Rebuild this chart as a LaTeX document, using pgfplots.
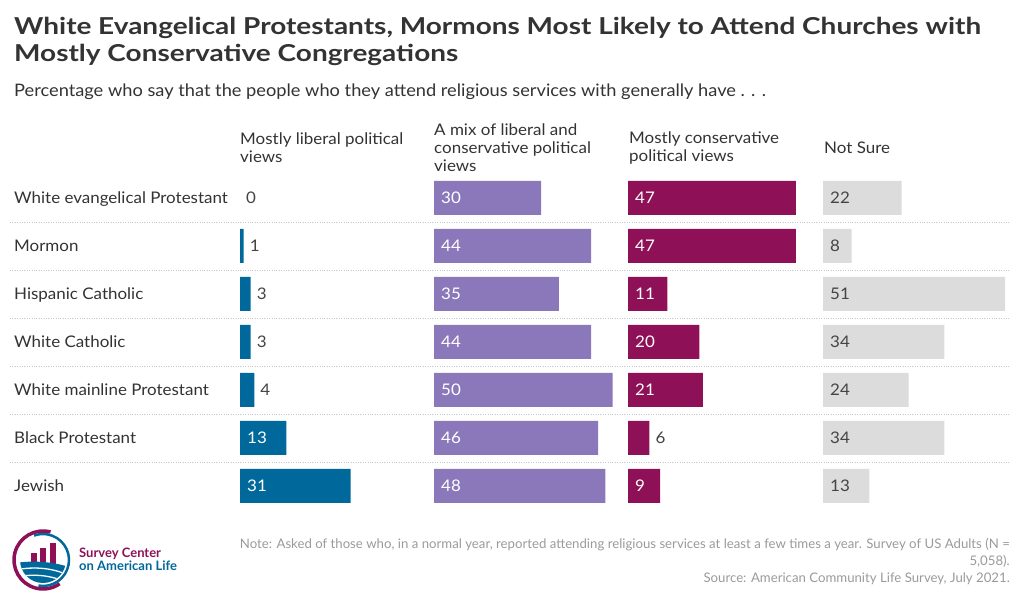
\documentclass[border=0pt]{standalone}
\usepackage{pgfplots}
\pgfplotsset{compat=1.18}
\usepackage{pgfplotstable}
\usepackage{fontspec}
\setmainfont{Lato}[FakeStretch=1.06]
\newfontfamily\titlefont{Lato}[FakeStretch=1.2]
\newfontfamily\notefont{Lato}

\definecolor{libblue}{HTML}{00689A}
\definecolor{mixpurple}{HTML}{8B78BA}
\definecolor{conmag}{HTML}{8E1157}
\definecolor{unsgrey}{HTML}{DCDCDC}
\definecolor{textdark}{HTML}{333333}
\definecolor{labeldark}{HTML}{444444}
\definecolor{notegrey}{HTML}{9A9A9A}
\definecolor{rulegrey}{HTML}{C8C8C8}

% Share of each group (percent) by the political makeup of their congregation
\pgfplotstableread{
row lib mix con uns
0   0   30  47  22
1   1   44  47  8
2   3   35  11  51
3   3   44  20  34
4   4   50  21  24
5   13  46  6   34
6   31  48  9   13
}\survey

\tikzset{
  valfont/.style={font=\fontsize{16bp}{19bp}\selectfont, inner sep=0pt,
    text height=11.5bp, text depth=0pt},
}
\pgfplotsset{
  panel/.style={
    scale only axis, width=185.64bp, height=336bp,
    xmin=0, xmax=52, ymin=-0.5, ymax=6.5, y dir=reverse,
    clip=false, anchor=south west,
    /pgf/number format/assume math mode=true,
  },
  panelbar/.style={xbar, bar width=34bp, fill=#1, draw=none,
    x filter/.expression={x==0 ? nan : x}},
  inlabel/.style={nodes near coords, point meta=explicit,
    nodes near coords style={valfont, anchor=west, xshift=7bp, text=#1}},
  outlabel/.style={nodes near coords, point meta=explicit,
    nodes near coords style={valfont, anchor=west, xshift=6bp, text=labeldark}},
}

\begin{document}
\begin{tikzpicture}[x=1bp, y=1bp]
\path (0,0) rectangle (1024,607);

% title and subtitle
\node[anchor=base west, inner sep=0pt, text=textdark,
  font=\titlefont\fontsize{23.3bp}{27bp}\selectfont\bfseries] at (14,572)
  {White Evangelical Protestants, Mormons Most Likely to Attend Churches with};
\node[anchor=base west, inner sep=0pt, text=textdark,
  font=\titlefont\fontsize{23.3bp}{27bp}\selectfont\bfseries] at (14,545)
  {Mostly Conservative Congregations};
\node[anchor=base west, inner sep=0pt, text=textdark,
  font=\fontsize{17.2bp}{20bp}\selectfont] at (14,510)
  {Percentage who say that the people who they attend religious services with generally have . . .};

% column headers
\foreach \hx/\htxt in {240/{Mostly liberal political\\views},
                      434/{A mix of liberal and\\conservative political\\views},
                      629/{Mostly conservative\\political views},
                      824/{Not Sure}}{
  \node[anchor=west, align=left, inner sep=0pt, text=textdark,
    font=\fontsize{16bp}{18bp}\selectfont] at (\hx,459) {\htxt};
}

% row separators
\foreach \ry in {222,270,318,366,414,462}{
  \draw[rulegrey, line width=0.7bp, dash pattern=on 0.8bp off 1.6bp]
    (10,607-\ry) -- (1010,607-\ry);
}

% mostly liberal
\begin{axis}[panel, at={(240bp,97bp)},
  axis line style={draw=none}, tick style={draw=none}, xtick=\empty,
  ytick={0,...,6}, major tick length=0pt,
  yticklabels={White evangelical Protestant, Mormon, Hispanic Catholic,
    White Catholic, White mainline Protestant, Black Protestant, Jewish},
  yticklabel style={anchor=west, inner sep=0pt, xshift=-226bp,
    font=\fontsize{16bp}{19bp}\selectfont, text=textdark,
    text height=11.5bp, text depth=0pt}]
  \addplot[panelbar=libblue] table[x=lib, y=row] {\survey};
  \addplot[draw=none, inlabel=white]
    table[x expr={\thisrow{lib}<10 ? nan : 0}, y=row, meta=lib] {\survey};
  \addplot[draw=none, outlabel]
    table[x expr={\thisrow{lib}<10 ? \thisrow{lib} : nan}, y=row, meta=lib] {\survey};
\end{axis}

% a mix of liberal and conservative
\begin{axis}[panel, at={(434bp,97bp)}, hide axis]
  \addplot[panelbar=mixpurple] table[x=mix, y=row] {\survey};
  \addplot[draw=none, inlabel=white]
    table[x expr=0, y=row, meta=mix] {\survey};
\end{axis}

% mostly conservative
\begin{axis}[panel, at={(628bp,97bp)}, hide axis]
  \addplot[panelbar=conmag] table[x=con, y=row] {\survey};
  \addplot[draw=none, inlabel=white]
    table[x expr={\thisrow{con}<8 ? nan : 0}, y=row, meta=con] {\survey};
  \addplot[draw=none, outlabel]
    table[x expr={\thisrow{con}<8 ? \thisrow{con} : nan}, y=row, meta=con] {\survey};
\end{axis}

% not sure
\begin{axis}[panel, at={(823bp,97bp)}, hide axis]
  \addplot[panelbar=unsgrey] table[x=uns, y=row] {\survey};
  \addplot[draw=none, inlabel=labeldark]
    table[x expr=0, y=row, meta=uns] {\survey};
\end{axis}

% logo
\begin{scope}
  \draw[conmag, line width=3.5bp] (43,47) ++(75:29) arc[start angle=75, end angle=305, radius=29];
  \draw[libblue, line width=2.5bp] (43,47) ++(-100:26) arc[start angle=-100, end angle=110, radius=26];
  \fill[conmag] (31,43) rectangle (37,54);
  \fill[conmag] (39.5,43) rectangle (46,59);
  \fill[conmag] (49.5,43) rectangle (56,64);
  \begin{scope}
    \clip (43,47) circle (23);
    \fill[libblue] (15,44) .. controls (35,47) and (55,45) .. (72,39) -- (72,15) -- (15,15) -- cycle;
    \draw[white, line width=1.3bp] (15,37) .. controls (35,41) and (55,39) .. (72,30);
    \draw[white, line width=1.3bp] (15,30) .. controls (38,34) and (55,31) .. (72,22);
  \end{scope}
  \node[anchor=base west, inner sep=0pt, text=conmag,
    font=\notefont\fontsize{13bp}{16bp}\selectfont\bfseries] at (79,49) {Survey Center};
  \node[anchor=base west, inner sep=0pt, text=libblue,
    font=\notefont\fontsize{13bp}{16bp}\selectfont\bfseries] at (79,36) {on American Life};
\end{scope}

% notes
\node[anchor=base east, inner sep=0pt, text=notegrey,
  font=\notefont\fontsize{13.2bp}{16bp}\selectfont] at (1010,58.5)
  {Note: Asked of those who, in a normal year, reported attending religious services at least a few times a year. Survey of US Adults (N =};
\node[anchor=base east, inner sep=0pt, text=notegrey,
  font=\notefont\fontsize{13.2bp}{16bp}\selectfont] at (1010,41.5) {5,058).};
\node[anchor=base east, inner sep=0pt, text=notegrey,
  font=\notefont\fontsize{13.2bp}{16bp}\selectfont] at (1010,24.5)
  {Source: American Community Life Survey, July 2021.};
\end{tikzpicture}
\end{document}
